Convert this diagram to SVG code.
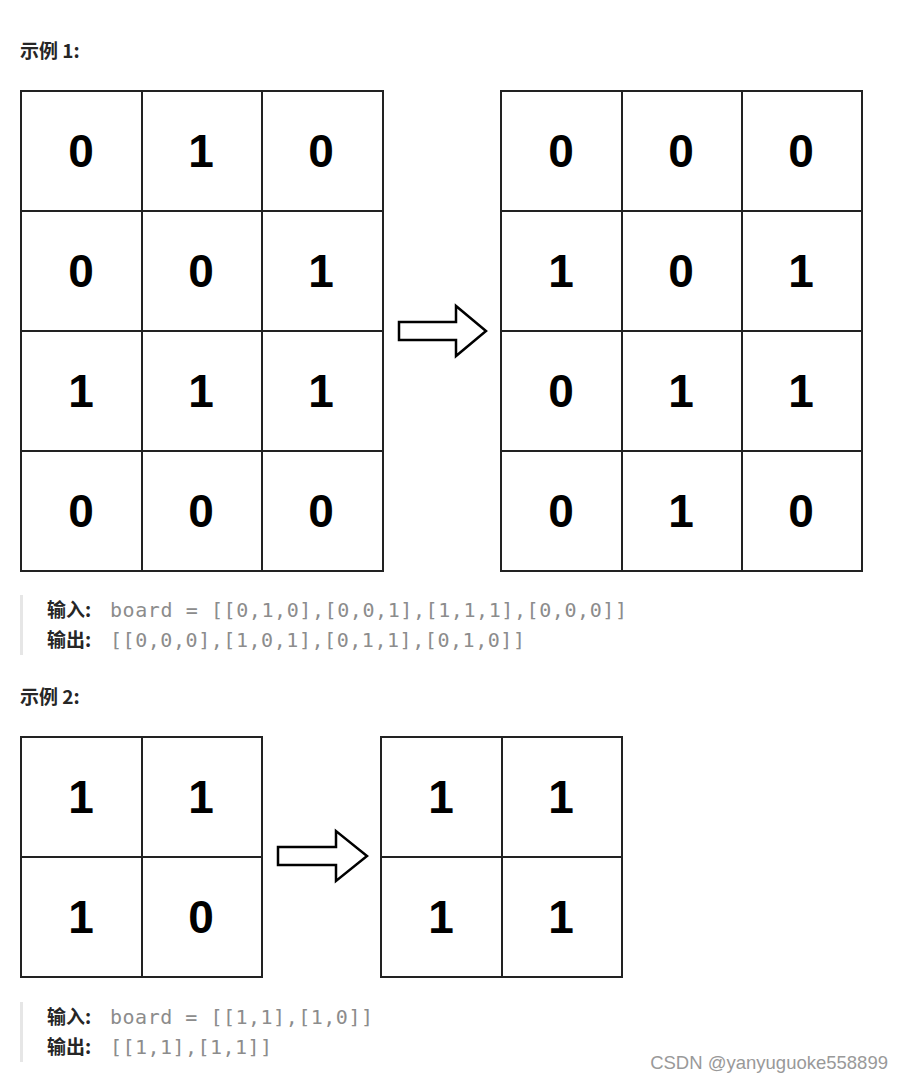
<svg xmlns="http://www.w3.org/2000/svg" width="904" height="1084" viewBox="0 0 904 1084">
<style>
.c{fill:#fff;stroke:#222;stroke-width:2}
.d{font-family:"Liberation Sans",Arial,sans-serif;font-weight:bold;font-size:46px;text-anchor:middle;fill:#000}
.h{font-family:"Noto Sans CJK SC",sans-serif;font-weight:bold;font-size:19px;fill:#262626}
.m{font-family:"DejaVu Sans Mono",monospace;font-size:20px;fill:#8c8c8c}
.ar{fill:#fff;stroke:#000;stroke-width:2.5;stroke-linejoin:miter}
.bar{fill:#e6e6e6}
</style>
<rect width="904" height="1084" fill="#fff"/>
<text class="h" x="20" y="58">示例 1:</text>
<g id="grid1">
<rect class="c" x="21" y="91" width="362" height="480"/>
<path d="M142 91V571M262 91V571M21 211H383M21 331H383M21 451H383" stroke="#222" stroke-width="2"/>
<text class="d" x="81" y="167">0</text><text class="d" x="201" y="167">1</text><text class="d" x="321" y="167">0</text>
<text class="d" x="81" y="287">0</text><text class="d" x="201" y="287">0</text><text class="d" x="321" y="287">1</text>
<text class="d" x="81" y="407">1</text><text class="d" x="201" y="407">1</text><text class="d" x="321" y="407">1</text>
<text class="d" x="81" y="527">0</text><text class="d" x="201" y="527">0</text><text class="d" x="321" y="527">0</text>
</g>
<g id="grid2">
<rect class="c" x="501" y="91" width="361" height="480"/>
<path d="M622 91V571M742 91V571M501 211H862M501 331H862M501 451H862" stroke="#222" stroke-width="2"/>
<text class="d" x="561" y="167">0</text><text class="d" x="681" y="167">0</text><text class="d" x="801" y="167">0</text>
<text class="d" x="561" y="287">1</text><text class="d" x="681" y="287">0</text><text class="d" x="801" y="287">1</text>
<text class="d" x="561" y="407">0</text><text class="d" x="681" y="407">1</text><text class="d" x="801" y="407">1</text>
<text class="d" x="561" y="527">0</text><text class="d" x="681" y="527">1</text><text class="d" x="801" y="527">0</text>
</g>
<g id="connectors">
<path class="ar" d="M399 322H456V306L486 331L456 356V340H399Z"/>
<path class="ar" d="M278 847H336V831L367 856L336 881V865H278Z"/>
</g>
<rect class="bar" x="20" y="595" width="3" height="60"/>
<text class="h" x="47" y="617">输入:</text><text class="m" x="110" y="617" textLength="517" lengthAdjust="spacing">board = [[0,1,0],[0,0,1],[1,1,1],[0,0,0]]</text>
<text class="h" x="47" y="647">输出:</text><text class="m" x="110" y="647" textLength="415" lengthAdjust="spacing">[[0,0,0],[1,0,1],[0,1,1],[0,1,0]]</text>
<text class="h" x="20" y="704">示例 2:</text>
<g id="grid3">
<rect class="c" x="21" y="737" width="241" height="240"/>
<path d="M142 737V977M21 857H262" stroke="#222" stroke-width="2"/>
<text class="d" x="81" y="813">1</text><text class="d" x="201" y="813">1</text>
<text class="d" x="81" y="933">1</text><text class="d" x="201" y="933">0</text>
</g>
<g id="grid4">
<rect class="c" x="381" y="737" width="241" height="240"/>
<path d="M502 737V977M381 857H622" stroke="#222" stroke-width="2"/>
<text class="d" x="441" y="813">1</text><text class="d" x="561" y="813">1</text>
<text class="d" x="441" y="933">1</text><text class="d" x="561" y="933">1</text>
</g>
<rect class="bar" x="20" y="1002" width="3" height="60"/>
<text class="h" x="47" y="1024">输入:</text><text class="m" x="110" y="1024" textLength="263" lengthAdjust="spacing">board = [[1,1],[1,0]]</text>
<text class="h" x="47" y="1054">输出:</text><text class="m" x="110" y="1054" textLength="162" lengthAdjust="spacing">[[1,1],[1,1]]</text>
<text x="888" y="1069" text-anchor="end" font-family="Liberation Sans,sans-serif" font-size="18.5" fill="#999">CSDN @yanyuguoke558899</text>
</svg>
